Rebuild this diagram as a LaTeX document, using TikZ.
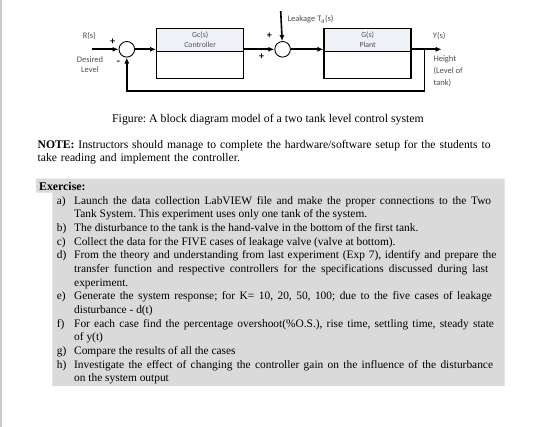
\documentclass[tikz,border=0pt]{standalone}
\usepackage{fontspec}
\setmainfont{Liberation Serif}
\newfontfamily\diagfont{Carlito}
\usetikzlibrary{arrows.meta, positioning}
\definecolor{blockfill}{HTML}{EEF1F7}
\definecolor{exfill}{HTML}{DADADA}
\definecolor{labelgray}{HTML}{505050}
\newcommand\exitem[1]{\noindent\hangindent=17.3pt\hangafter=1\makebox[17.3pt][l]{#1}\ignorespaces}
\frenchspacing

\begin{document}
\begin{tikzpicture}[x=1pt, y=-1pt,
  sig/.style={line width=1.6pt, -{Latex[length=6pt, width=5pt]}},
  sumnode/.style={circle, draw, line width=0.9pt, minimum size=15.6pt, inner sep=0pt},
  blockbox/.style={rectangle, draw, line width=1.3pt, minimum width=87pt, minimum height=50.4pt, inner sep=0pt,
    path picture={\fill[blockfill] (path picture bounding box.north west) rectangle ([yshift=1.8pt]path picture bounding box.east);
      \draw[line width=0.8pt] ([yshift=1.8pt]path picture bounding box.west) -- ([yshift=1.8pt]path picture bounding box.east);}},
  blocklbl/.style={font=\diagfont\fontsize{7.8}{10.7}\selectfont, text=labelgray, align=center, inner sep=0pt},
  sglbl/.style={font=\diagfont\fontsize{8.5}{10.7}\selectfont, text=labelgray, inner sep=0pt},
  signlbl/.style={font=\diagfont\bfseries\fontsize{10}{10}\selectfont, inner sep=0pt},
  body/.style={font=\fontsize{11.4}{13.65}\selectfont, inner sep=0pt}
]
\useasboundingbox (0,0) rectangle (540,427);
\fill[white] (0,0) rectangle (540,427);
\draw[gray!40, line width=1.5pt] (0.75,0) -- (0.75,427);

% block diagram
\node[sumnode] (sum1) at (126.8,49.3) {};
\node[blockbox, right=21pt of sum1, yshift=-4.2pt] (ctrl) {};
\node[sumnode, right=30pt of ctrl, yshift=4.2pt] (sum2) {};
\node[blockbox, right=32.6pt of sum2, yshift=-4.2pt] (plant) {};
\node[blocklbl, below=3.5pt of ctrl.north] (ctrllbl) {Gc(s)\\Controller};
\node[blocklbl, below=3.5pt of plant.north] (plantlbl) {G(s)\\Plant};

\coordinate (rin) at (91.7,49.3);
\coordinate (branch) at (424.3,49.3);
\coordinate (yout) at (441.7,49.3);
\coordinate (leak) at (280.7,11);

\draw[sig] (rin) -- (sum1);
\draw[sig] (sum1) -- (sum1 -| ctrl.west);
\draw[sig] (ctrl.east |- sum2) -- (sum2);
\draw[sig] (leak) -- (sum2);
\draw[sig] (sum2) -- (sum2 -| plant.west);
\draw[sig] (plant.east |- sum2) -- (yout);
\draw[sig] (branch) -- ++(0,41.7) -| (sum1);

\node[sglbl] (rlbl) at (89.3,36) {R(s)};
\node[sglbl, align=center] (deslbl) at (90,64.6) {Desired\\Level};
\node[signlbl] (p1) at (112.7,41.3) {+};
\node[signlbl] (m1) at (118.3,62.7) {-};
\node[signlbl] (p2) at (269.3,36) {+};
\node[signlbl] (p3) at (261.7,56.7) {+};
\node[sglbl, anchor=west] (leaklbl) at (287.3,19.3) {Leakage T\textsubscript{d}(s)};
\node[sglbl, anchor=west] (ylbl) at (432.7,36) {Y(s)};
\node[sglbl, anchor=north west, align=left, font=\diagfont\fontsize{8.5}{12}\selectfont] (hlbl) at (433.3,55) {Height\\(Level of\\tank)};

% caption and note
\node[body, anchor=base, font=\fontsize{11.8}{13}\selectfont] (cap) at (268,122.3) {Figure: A block diagram model of a two tank level control system};
\node[body, anchor=base west, text width=462pt, align=left, font=\fontsize{11.65}{13}\selectfont] (note) at (37.5,149)
  {\textbf{NOTE:} Instructors should manage to complete the hardware/software setup for the students to\\take reading and implement the controller.};

% exercise
\fill[exfill] (36,178.7) -- (504.5,178.7) -- (504.5,386) -- (52.3,386) -- (52.3,192.7) -- (36,192.7) -- cycle;
\node[body, anchor=base west, font=\fontsize{11.8}{13.8}\selectfont\bfseries] (exhead) at (39,190.3) {Exercise:};
\node[body, anchor=base west, text width=446pt] (exlist) at (56.7,204.3) {%
  \parindent=0pt\parskip=0pt\hyphenpenalty=10000\spaceskip=0.25em plus 0.3em minus 0.12em%
  \exitem{a)} Launch the data collection LabVIEW file and make the proper connections to the Two\linebreak
    Tank System. This experiment uses only one tank of the system.\par
  \exitem{b)} The disturbance to the tank is the hand-valve in the bottom of the first tank.\par
  \exitem{c)} Collect the data for the FIVE cases of leakage valve (valve at bottom).\par
  \exitem{d)} From the theory and understanding from last experiment (Exp 7), identify and prepare the\linebreak
    transfer function and respective controllers for the specifications discussed during last\linebreak
    experiment.\par
  \exitem{e)} Generate the system response; for K= 10, 20, 50, 100; due to the five cases of leakage\linebreak
    disturbance - d(t)\par
  \exitem{f)} For each case find the percentage overshoot(\%O.S.), rise time, settling time, steady state\linebreak
    of y(t)\par
  \exitem{g)} Compare the results of all the cases\par
  \exitem{h)} Investigate the effect of changing the controller gain on the influence of the disturbance\linebreak
    on the system output\par};
\end{tikzpicture}
\end{document}
